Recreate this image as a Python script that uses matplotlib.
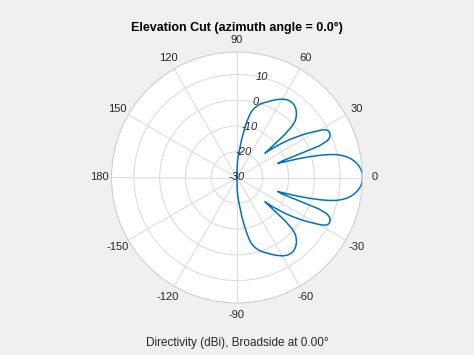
import numpy as np
import matplotlib
matplotlib.use("Agg")
import matplotlib.pyplot as plt

# ---- data ----
elevation_deg = np.arange(-90, 91)  # 1 degree sampling
directivity_dbi = [
    -30.0, -25.5, -23.5, -22.2, -20.8, -19.3, -17.5, -15.0, -12.8, -10.5,
    -8.0, -6.0, -4.2, -3.2, -2.3, -1.6, -1.0, -0.4, 0.1, 0.5,
    0.9, 1.3, 1.7, 2.1, 2.6, 3.0, 3.5, 3.9, 4.3, 4.7,
    5.1, 5.4, 5.7, 5.9, 6.0, 6.1, 6.1, 6.0, 5.9, 5.6,
    5.3, 4.9, 4.4, 3.8, 3.1, 2.3, 1.2, -0.8, -5.0, -15.6,
    -13.6, -11.6, -9.5, -7.4, -5.3, -3.4, -1.5, 0.5, 2.4, 4.2,
    6.2, 8.1, 9.3, 9.8, 9.9, 9.8, 9.5, 8.9, 7.6, 4.0,
    -11.5, -13.3, -9.5, -5.0, -0.8, 3.4, 6.8, 9.5, 11.4, 12.9,
    14.1, 15.1, 15.9, 16.6, 17.2, 17.7, 18.1, 18.4, 18.6, 18.7,
    18.7,
    18.7, 18.6, 18.4, 18.1, 17.7, 17.2, 16.6, 15.9, 15.1, 14.1,
    12.9, 11.4, 9.5, 6.8, 3.4, -0.8, -5.0, -9.5, -13.3, -11.5,
    4.0, 7.6, 8.9, 9.5, 9.8, 9.9, 9.8, 9.3, 8.1, 6.2,
    4.2, 2.4, 0.5, -1.5, -3.4, -5.3, -7.4, -9.5, -11.6, -13.6,
    -15.6, -5.0, -0.8, 1.2, 2.3, 3.1, 3.8, 4.4, 4.9, 5.3,
    5.6, 5.9, 6.0, 6.1, 6.1, 6.0, 5.9, 5.7, 5.4, 5.1,
    4.7, 4.3, 3.9, 3.5, 3.0, 2.6, 2.1, 1.7, 1.3, 0.9,
    0.5, 0.1, -0.4, -1.0, -1.6, -2.3, -3.2, -4.2, -6.0, -8.0,
    -10.5, -12.8, -15.0, -17.5, -19.3, -20.8, -22.2, -23.5, -25.5, -30.0,
]
r_limits = [-30, 18.7]
r_ticks = [-30, -20, -10, 0, 10]
r_tick_labels = ["-30", "-20", "-10", "0", "10"]
theta_ticks_deg = [0, 30, 60, 90, 120, 150, 180, 210, 240, 270, 300, 330]
theta_tick_labels = ["0", "30", "60", "90", "120", "150", "180",
                     "-150", "-120", "-90", "-60", "-30"]
title_text = "Elevation Cut (azimuth angle = 0.0°)"
bottom_text = "Directivity (dBi), Broadside at 0.00°"

# ---- figure ----
plt.rcParams["font.family"] = ["Liberation Sans", "DejaVu Sans"]
W, H = 474, 355
fig = plt.figure(figsize=(W / 100, H / 100), dpi=100, facecolor="#f0f0f0")

cx, cy, R = 237, 177.5, 125.5
ax = fig.add_axes([(cx - R) / W, (H - cy - R) / H, 2 * R / W, 2 * R / H],
                  projection="polar")
ax.set_facecolor("white")

ax.plot(np.deg2rad(elevation_deg), directivity_dbi, color="#0072BD", lw=1.1)

ax.set_ylim(*r_limits)
ax.set_yticks(r_ticks[1:])
ax.set_yticklabels([])
ax.set_xticks(np.deg2rad(theta_ticks_deg))
ax.set_xticklabels([])
ax.tick_params(axis="x", length=0)
ax.grid(True, color="#dcdcdc", lw=0.8)
ax.spines["polar"].set_color("#cfcfcf")
ax.spines["polar"].set_linewidth(0.8)

# angle labels centred ~12.5 px outside the outer circle
px_per_unit = R / (r_limits[1] - r_limits[0])
r_lab = r_limits[1] + 12.5 / px_per_unit
for t, lab in zip(theta_ticks_deg, theta_tick_labels):
    ax.text(np.deg2rad(t), r_lab, lab, ha="center", va="center",
            fontsize=8, color="#262626", clip_on=False)

for r, lab in zip(r_ticks, r_tick_labels):
    ax.text(np.deg2rad(76), r, lab, ha="center", va="center",
            style="italic", fontsize=8, color="#262626")

fig.text(0.5, 1 - 28 / H, title_text, ha="center", va="center",
         fontsize=9, fontweight="bold", color="#000000")
fig.text(0.5, 1 - 343 / H, bottom_text, ha="center", va="center",
         fontsize=8.5, color="#262626")

fig.savefig("out.png", dpi=100, facecolor=fig.get_facecolor())
